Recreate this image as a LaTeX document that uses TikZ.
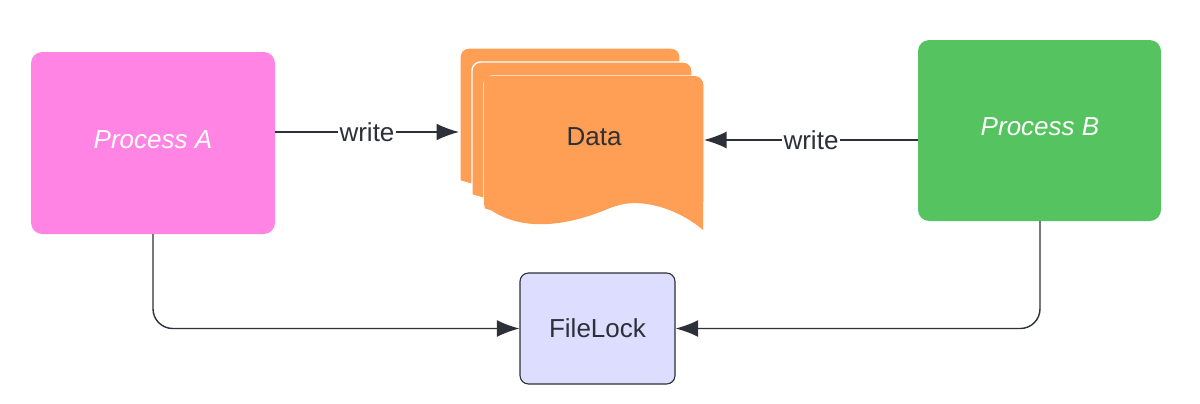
\documentclass[tikz,border=0pt]{standalone}
\usepackage{fontspec}
\setmainfont{Liberation Sans}
\usetikzlibrary{arrows.meta}
\definecolor{pinkA}{HTML}{FF84E4}
\definecolor{greenB}{HTML}{55C35F}
\definecolor{orangeD}{HTML}{FF9E55}
\definecolor{lav}{HTML}{DDDDFF}
\definecolor{ink}{HTML}{2D3039}
\begin{document}
\begin{tikzpicture}[x=0.025cm,y=-0.025cm,
  proc/.style={rounded corners=8,draw=none},
  conn/.style={draw=ink,line width=1pt,-{Latex[length=16pt,width=12pt]}},
  lbl/.style={fill=white,text=ink,inner sep=1pt,font=\fontsize{18.5}{22}\selectfont},
  doc/.style={fill=orangeD,draw=white,line width=1pt,rounded corners=6}]
\useasboundingbox (0,0) rectangle (1200,403);
\path[proc,fill=pinkA] (31,52) rectangle (275,234);
\node[text=white,font=\fontsize{18.5}{22}\selectfont\itshape] (A) at (153,140) {Process A};
\coordinate (Ar) at (275,132); \coordinate (Ab) at (153,234);
\path[proc,fill=greenB] (918,40) rectangle (1161,221);
\node[text=white,font=\fontsize{18.5}{22}\selectfont\itshape] (B) at (1040,127) {Process B};
\coordinate (Bl) at (918,140); \coordinate (Bb) at (1040,221);
\foreach \dx/\dy in {0/0,12/14,24/28}{
 \path[doc] (460+\dx,181+\dy) -- (460+\dx,48+\dy) -- (680+\dx,48+\dy) -- (680+\dx,182+\dy)
   [sharp corners] .. controls (640+\dx,140+\dy) and (570+\dx,215+\dy) .. (460+\dx,181+\dy) -- cycle;}
\path[fill=orangeD] (484,205) -- (484,76) [rounded corners=6] -- (703,76) [sharp corners]-- (703,230)
  .. controls (680,210) and (640,195) .. (610,208) .. controls (570,225) and (520,235) .. (484,205) -- cycle;
\node[text=ink,font=\fontsize{18.5}{22}\selectfont] (D) at (594,137) {Data};
\coordinate (Dl) at (459,132); \coordinate (Dr) at (704,140);
\node[draw=ink,fill=lav,rounded corners=6,line width=0.8pt,minimum width=155*0.025cm,minimum height=111*0.025cm,text=ink,font=\fontsize{18.5}{22}\selectfont] (F) at (597.5,328.5) {FileLock};
\draw[conn] (Ar) -- node[lbl]{write} (Dl);
\draw[conn] (Bl) -- node[lbl]{write} (Dr);
\draw[conn,rounded corners=14] (Ab) |- (F.west);
\draw[conn,rounded corners=14] (Bb) |- (F.east);
\end{tikzpicture}
\end{document}
